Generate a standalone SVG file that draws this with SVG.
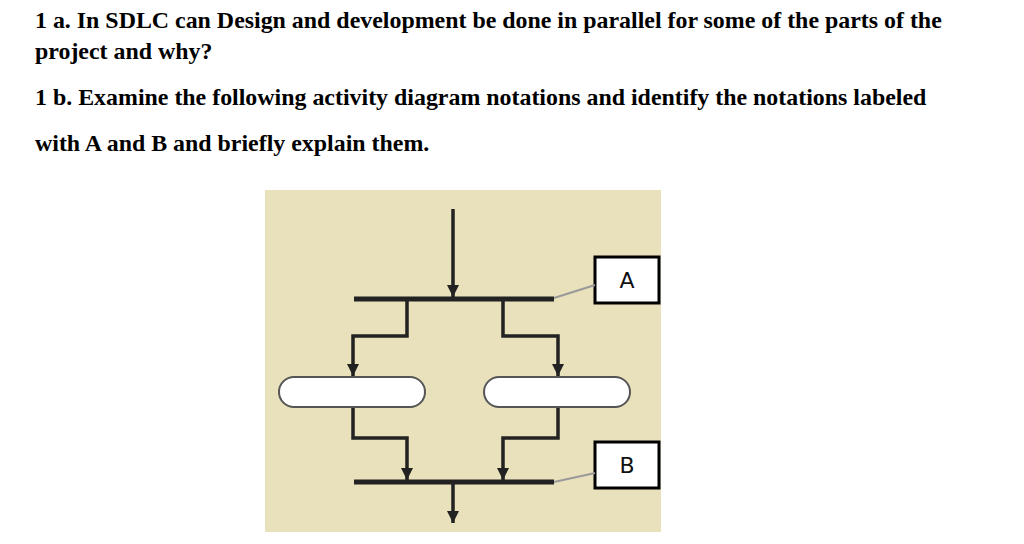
<svg xmlns="http://www.w3.org/2000/svg" width="1024" height="544" viewBox="0 0 1024 544">
<style>
.q{font-family:"Liberation Serif",serif;font-weight:bold;font-size:23.9px;fill:#000}
.ln{stroke:#222;stroke-width:3.5;fill:none}
.bar{stroke:#222;stroke-width:5}
.lead{stroke:#999;stroke-width:2}
.lbl{fill:#fff;stroke:#000;stroke-width:3}
.lt{font-family:"DejaVu Sans",sans-serif;font-size:22px;fill:#111;text-anchor:middle}
.pill{fill:#fff;stroke:#555;stroke-width:2}
</style>
<defs><marker id="ah" markerWidth="12" markerHeight="12" refX="12" refY="6" orient="auto" markerUnits="userSpaceOnUse" viewBox="0 0 12 12"><path d="M0,0 L12,6 L0,12 z" fill="#222"/></marker></defs>
<rect width="1024" height="544" fill="#fff"/>
<text class="q" x="35" y="28">1 a. In SDLC can Design and development be done in parallel for some of the parts of the</text>
<text class="q" x="35" y="59">project and why?</text>
<text class="q" x="35" y="105">1 b. Examine the following activity diagram notations and identify the notations labeled</text>
<text class="q" x="35" y="151">with A and B and briefly explain them.</text>
<rect x="265" y="190" width="396" height="342" fill="#e8e1bb"/>
<g id="fork"><line class="bar" x1="354" y1="299" x2="554" y2="299"/></g>
<g id="join"><line class="bar" x1="354" y1="482" x2="554" y2="482"/></g>
<g id="act1"><rect class="pill" x="279" y="377" width="146" height="30" rx="15"/></g>
<g id="act2"><rect class="pill" x="484" y="377" width="146" height="30" rx="15"/></g>
<g id="labelA"><rect class="lbl" x="595" y="257" width="64" height="46"/><text class="lt" x="627" y="288">A</text></g>
<g id="labelB"><rect class="lbl" x="595" y="442" width="64" height="46"/><text class="lt" x="627" y="473">B</text></g>
<g id="connectors">
<path class="ln" d="M453,209 V297" marker-end="url(#ah)"/>
<path class="ln" d="M407,301 V336 H353 V376" marker-end="url(#ah)"/>
<path class="ln" d="M503,301 V336 H558 V376" marker-end="url(#ah)"/>
<path class="ln" d="M353,408 V438 H407 V480" marker-end="url(#ah)"/>
<path class="ln" d="M558,408 V438 H503 V480" marker-end="url(#ah)"/>
<path class="ln" d="M453,484 V523" marker-end="url(#ah)"/>
<path class="lead" d="M554,298 L595,285"/>
<path class="lead" d="M554,482 L595,473"/>
</g>
</svg>
